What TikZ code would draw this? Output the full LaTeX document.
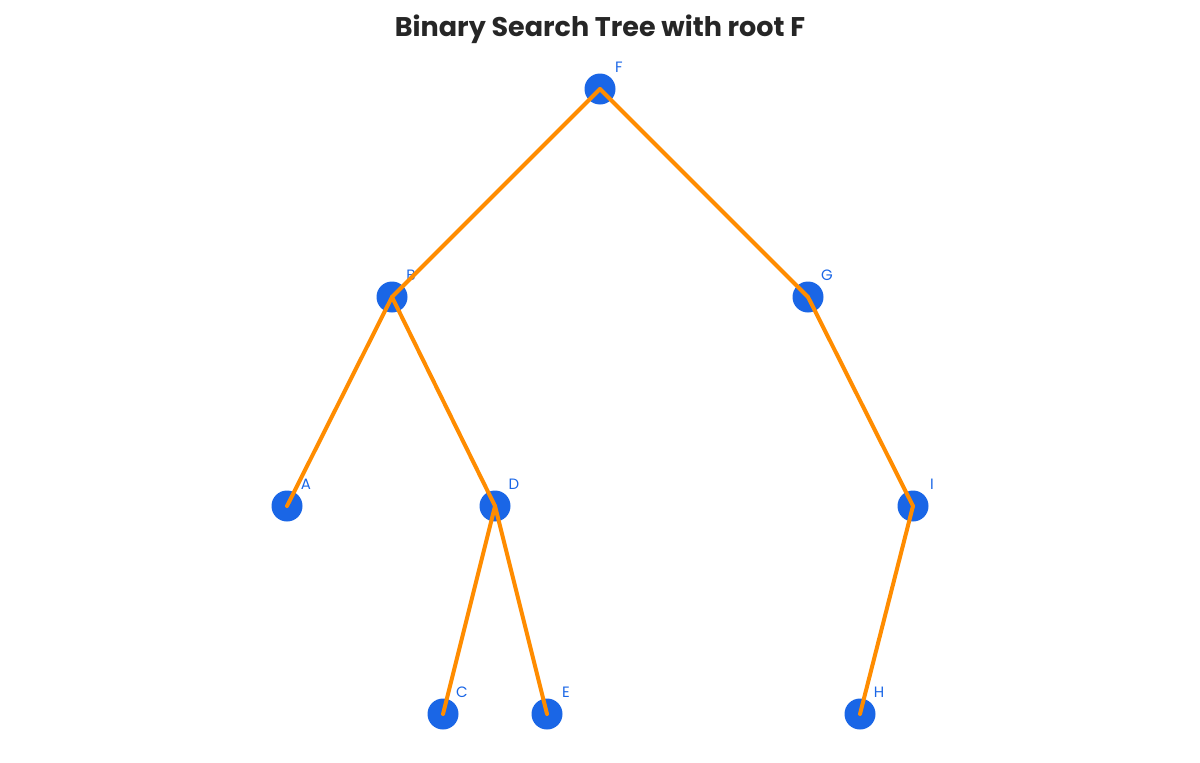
\documentclass[tikz,border=0pt]{standalone}
\usepackage{fontspec}
\setmainfont{Poppins}
\definecolor{nodeblue}{HTML}{1A66E6}
\definecolor{edgeorange}{HTML}{FF8C00}
\begin{document}
\begin{tikzpicture}[x=1pt,y=-1pt,
  vert/.style={circle,fill=nodeblue,minimum size=31pt,inner sep=0pt},
  lab/.style={text=nodeblue,font=\fontsize{15}{15}\selectfont,inner sep=0pt},
  edge/.style={draw=edgeorange,line width=4pt,line cap=round}]
\useasboundingbox (0,0) rectangle (1200,763);
\node[font=\fontsize{27}{27}\selectfont\bfseries,text=black!85] (title) at (600,29) {Binary Search Tree with root F};
\foreach \n/\x/\y in {F/600/89,B/392/297,G/808/297,A/287/506,D/495/506,I/913/506,C/443/714,E/547/714,H/860/714}{
  \node[vert] (\n) at (\x,\y) {};
  \node[lab] (l\n) at (\x+19,\y-22) {\n};
}
\foreach \a/\b in {F/B,F/G,B/A,B/D,G/I,D/C,D/E,I/H}{
  \draw[edge] (\a.center) -- (\b.center);
}
\end{tikzpicture}
\end{document}
